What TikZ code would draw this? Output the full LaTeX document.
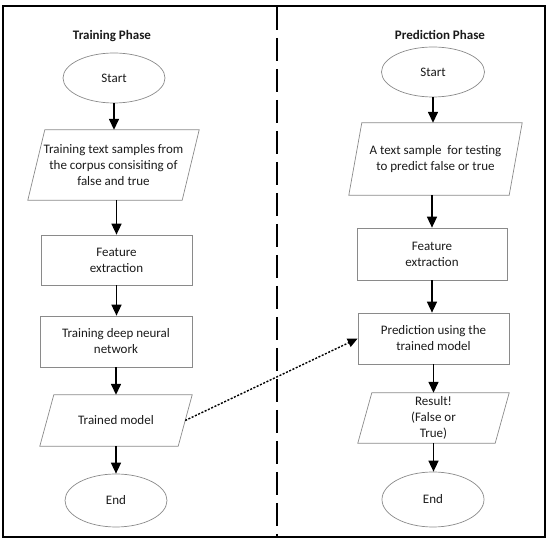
\documentclass[tikz,border=0pt]{standalone}
\usepackage{fontspec}
\setmainfont{Carlito}
\usetikzlibrary{shapes.geometric,arrows.meta,calc}
\definecolor{boxgray}{HTML}{8A8A8A}
\definecolor{txt}{HTML}{1A1A1A}
\newcommand{\drawpara}[2]{\draw[paraline] ([xshift=#2]#1.north west) -- (#1.north east) -- ([xshift=-#2]#1.south east) -- (#1.south west) -- cycle;}
\begin{document}
\begin{tikzpicture}[x=1pt,y=-1pt,
  lbl/.style={font=\fontsize{13}{16}\selectfont, text=txt, align=center, inner sep=0pt},
  box/.style={lbl, draw=boxgray, line width=0.7pt, rectangle},
  oval/.style={lbl, draw=boxgray, line width=0.7pt, ellipse},
  paranode/.style={lbl, rectangle},
  paraline/.style={draw=boxgray, line width=0.7pt, line join=miter},
  arr/.style={-{Triangle[length=11pt,width=10pt]}, line width=1.5pt, black},
  dotarr/.style={-{Triangle[length=10pt,width=9pt]}, line width=1.4pt, black, dash pattern=on 2pt off 1.6pt},
  title/.style={font=\fontsize{13}{16}\selectfont\bfseries, text=txt, inner sep=0pt}]
\useasboundingbox (0,0) rectangle (550,545);
% frame and divider
\draw[line width=2pt] (3,6) rectangle (545,537);
\coordinate (dtop) at (277,7);
\coordinate (dbot) at (277,536);
\draw[line width=1.8pt, dash pattern=on 23pt off 8pt] (dtop) -- (dbot);
% titles
\node[title] (t1) at (112,36) {Training Phase};
\node[title] (t2) at (440,35) {Prediction Phase};
% left column
\node[oval, minimum width=102pt, minimum height=50pt] (ls) at (114,78) {Start};
\node[paranode, minimum width=171pt, minimum height=70pt] (lp) at (113.5,165) {Training text samples from\\the corpus consisiting of\\false and true};
\drawpara{lp}{17pt}
\node[box, minimum width=151pt, minimum height=50pt] (lf) at (116.5,260) {Feature\\extraction};
\node[box, minimum width=152pt, minimum height=51pt] (lt) at (116,341.5) {Training deep neural\\network};
\node[paranode, minimum width=152pt, minimum height=51pt] (tm) at (116,420.5) {Trained model};
\drawpara{tm}{14pt}
\node[oval, minimum width=102pt, minimum height=53pt] (le) at (116,500.5) {End};
% right column
\node[oval, minimum width=103pt, minimum height=50pt] (rs) at (433,72) {Start};
\node[paranode, minimum width=173pt, minimum height=72pt] (rp) at (435.5,159) {A text sample\ \ for testing\\to predict false or true};
\drawpara{rp}{13pt}
\node[box, minimum width=150pt, minimum height=52pt] (rf) at (432,254) {Feature\\extraction};
\node[box, minimum width=151pt, minimum height=51pt] (pr) at (433.5,338.5) {Prediction using the\\trained model};
\node[paranode, minimum width=151pt, minimum height=50pt] (rr) at (433.5,418) {Result!\\(False or\\True)};
\drawpara{rr}{14pt}
\node[oval, minimum width=102pt, minimum height=55pt] (re) at (433,499.5) {End};
% arrows left
\draw[arr] (ls.south) -- (ls.south |- lp.north);
\draw[arr] (lp.south -| lf.north) -- (lf.north);
\draw[arr] (lf.south) -- (lf.south |- lt.north);
\draw[arr] (lt.south) -- (lt.south |- tm.north);
\draw[arr] (tm.south) -- (tm.south |- le.north);
% arrows right
\draw[arr] (rs.south) -- (rs.south |- rp.north);
\draw[arr] (rp.south -| rf.north) -- (rf.north);
\draw[arr] (rf.south) -- (rf.south |- pr.north);
\draw[arr] (pr.south) -- (pr.south |- rr.north);
\draw[arr] (rr.south) -- (rr.south |- re.north);
% dotted connector
\draw[dotarr] ($(tm.east)+(-7,0)$) -- (pr.west);
\end{tikzpicture}
\end{document}
